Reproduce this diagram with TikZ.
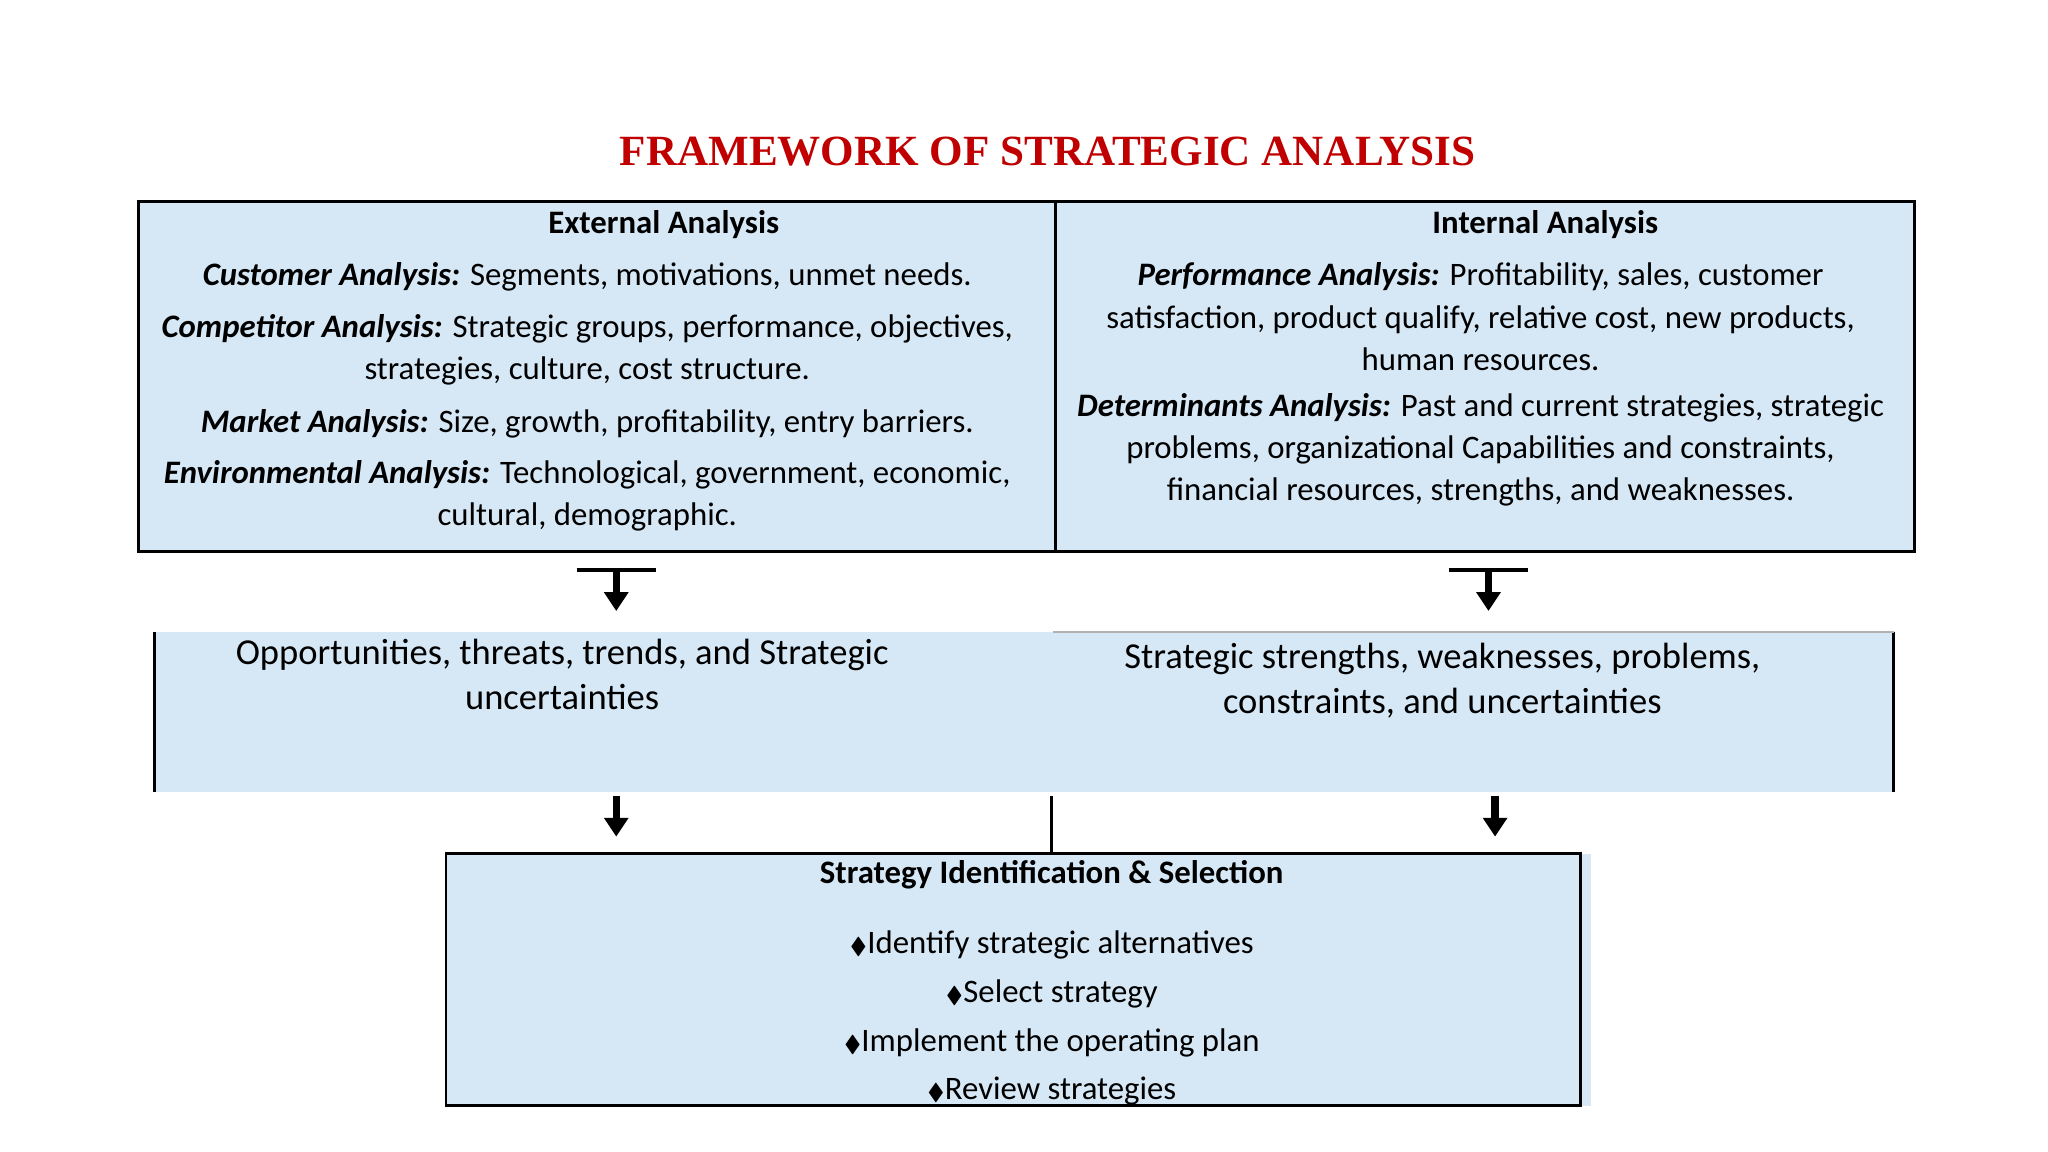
\documentclass[tikz,border=0pt]{standalone}
\usepackage{amssymb}
\usepackage{fontspec}
\setmainfont{Carlito}
\newfontfamily\titlefont{Liberation Serif}
\usetikzlibrary{arrows.meta}
\definecolor{boxblue}{RGB}{214,232,246}
\definecolor{titlered}{RGB}{192,0,0}
\tikzset{
  panel/.style={draw=black,fill=boxblue,line width=0.6pt},
  txt/.style={align=center,font=\fontsize{7.0}{9.0}\selectfont,inner sep=0pt},
  arr/.style={-{Triangle[length=4pt,width=5pt]},line width=1.6pt},
}
\begin{document}
\begin{tikzpicture}[x=0.0099cm,y=-0.0099cm]
\useasboundingbox (0,0) rectangle (1552,873);
\node[font=\titlefont\bfseries\fontsize{9.2}{11}\selectfont,text=titlered] (title) at (794,115) {FRAMEWORK OF STRATEGIC ANALYSIS};
% top boxes
\draw[panel] (105,153) rectangle (800,418);
\draw[panel] (800,153) rectangle (1451,418);
\node[txt,font=\bfseries\fontsize{7.0}{9.0}\selectfont] (exth) at (503,170) {External\ Analysis};
\node[txt] (ca) at (445,210) {\textbf{\textit{Customer Analysis:}} Segments, motivations, unmet needs.};
\node[txt] (co) at (445,265) {\textbf{\textit{Competitor Analysis:}} Strategic groups, performance, objectives,\\strategies, culture, cost structure.};
\node[txt] (ma) at (445,321) {\textbf{\textit{Market Analysis:}} Size, growth, profitability, entry barriers.};
\node[txt] (ea) at (445,376) {\textbf{\textit{Environmental Analysis:}} Technological, government, economic,\\cultural, demographic.};
\node[txt,font=\bfseries\fontsize{7.0}{9.0}\selectfont] (inth) at (1171,170) {Internal\ Analysis};
\node[txt] (pa) at (1122,240) {\textbf{\textit{Performance Analysis:}} Profitability, sales, customer\\satisfaction, product qualify, relative cost, new products,\\human resources.};
\node[txt] (da) at (1122,341) {\textbf{\textit{Determinants Analysis:}} Past and current strategies, strategic\\problems, organizational Capabilities and constraints,\\financial resources, strengths, and weaknesses.};
% arrows top
\coordinate (a1s) at (467,432); \coordinate (a1e) at (467,463);
\coordinate (a2s) at (1128,432); \coordinate (a2e) at (1128,463);
\draw[line width=0.8pt] (437,432) -- (497,432);
\draw[line width=0.8pt] (1098,432) -- (1158,432);
\draw[arr] (a1s) -- (a1e);
\draw[arr] (a2s) -- (a2e);
% middle box
\fill[boxblue] (117,479) rectangle (1435,600);
\draw[line width=0.6pt] (117,479) -- (117,600);
\draw[line width=0.6pt] (1435,479) -- (1435,600);
\draw[line width=0.4pt,white!70!black] (798,479) -- (1435,479);
\node[txt,font=\fontsize{7.8}{9.6}\selectfont] (opp) at (426,511) {Opportunities, threats, trends, and Strategic\\uncertainties};
\node[txt,font=\fontsize{7.8}{9.6}\selectfont] (str) at (1093,516) {Strategic strengths, weaknesses, problems,\\constraints, and uncertainties};
% arrows middle
\coordinate (b1s) at (467,603); \coordinate (b1e) at (467,634);
\coordinate (b2s) at (1133,603); \coordinate (b2e) at (1133,634);
\draw[arr] (b1s) -- (b1e);
\draw[arr] (b2s) -- (b2e);
\draw[line width=0.6pt] (797,603) -- (797,647);
% bottom box
\fill[boxblue] (338,647) rectangle (1206,838);
\draw[line width=0.6pt] (338,647) rectangle (1198,838);
\node[txt,font=\bfseries\fontsize{7.0}{9.0}\selectfont] (sh) at (797,663) {Strategy Identification \& Selection};
\node[txt] (s1) at (797,716) {\scalebox{0.7}{$\blacklozenge$}Identify strategic alternatives};
\node[txt] (s2) at (797,753) {\scalebox{0.7}{$\blacklozenge$}Select strategy};
\node[txt] (s3) at (797,790) {\scalebox{0.7}{$\blacklozenge$}Implement the operating plan};
\node[txt] (s4) at (797,827) {\scalebox{0.7}{$\blacklozenge$}Review strategies};
\end{tikzpicture}
\end{document}
